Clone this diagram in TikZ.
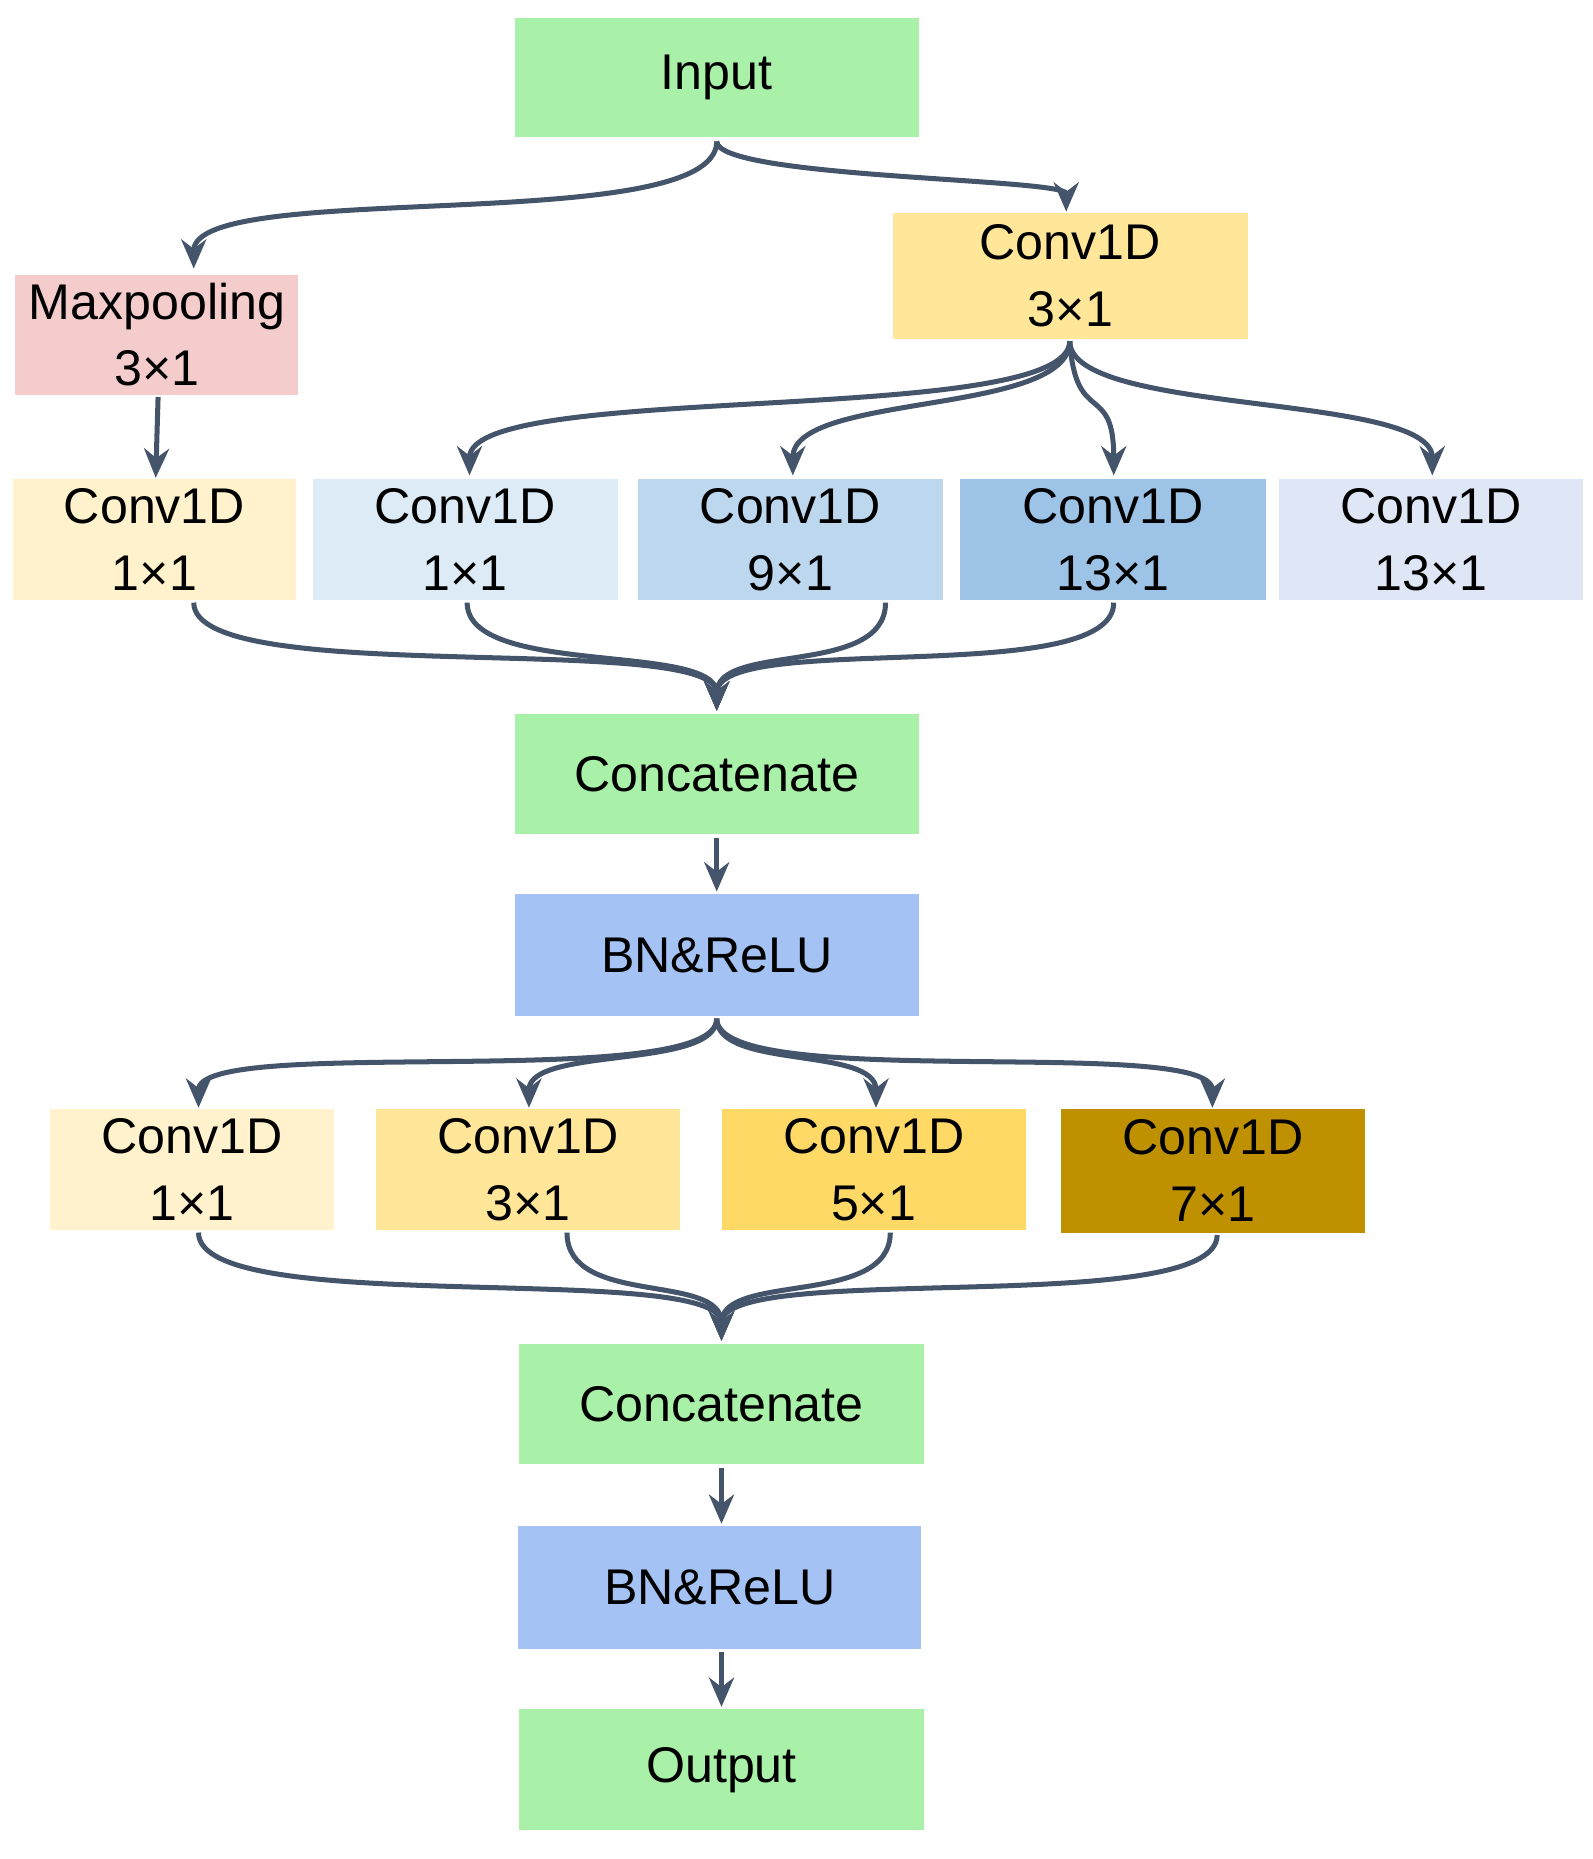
\documentclass[tikz,border=0pt]{standalone}
\usepackage{fontspec}
\setmainfont{Liberation Sans}
\usetikzlibrary{arrows.meta}
\definecolor{cgreen}{HTML}{A9F0A9}
\definecolor{cyel}{HTML}{FFE699}
\definecolor{cpale}{HTML}{FFF2CC}
\definecolor{cpink}{HTML}{F4CCCC}
\definecolor{cb1}{HTML}{DDEBF7}
\definecolor{cb2}{HTML}{BDD7EE}
\definecolor{cb3}{HTML}{9DC3E6}
\definecolor{cb4}{HTML}{DFE7F7}
\definecolor{cbn}{HTML}{A4C2F4}
\definecolor{cgold}{HTML}{FFD966}
\definecolor{cdark}{HTML}{BF9000}
\definecolor{cline}{HTML}{44546A}
\tikzset{
  box/.style={draw=none, inner sep=0pt, align=center,
    font=\fontsize{12}{16}\selectfont},
  conn/.style={cline, line width=1.2pt, -{Stealth[length=7pt,width=6pt]}},
  link/.style={cline, line width=1.2pt},
}
\newcommand\bx[6]{% name, x1, y1, x2, y2, colour
  \path[fill=#6] (#2,#3) rectangle (#4,#5);
  \node[box] (#1) at ({(#2+#4)/2},{(#3+#5)/2}) {};
}
\begin{document}
\begin{tikzpicture}[x=0.01cm,y=-0.01cm]
\useasboundingbox (0,0) rectangle (1340,1564);
% boxes
\bx{in}{433}{15}{773}{115}{cgreen}
\bx{ca}{751}{179}{1050}{285}{cyel}
\bx{mp}{13}{231}{251}{332}{cpink}
\bx{r1}{11}{403}{249}{505}{cpale}
\bx{r2}{263}{403}{520}{505}{cb1}
\bx{r3}{537}{403}{793}{505}{cb2}
\bx{r4}{808}{403}{1065}{505}{cb3}
\bx{r5}{1076}{403}{1332}{505}{cb4}
\bx{cc}{433}{601}{773}{702}{cgreen}
\bx{bn}{433}{752}{773}{855}{cbn}
\bx{s1}{42}{933}{281}{1035}{cpale}
\bx{s2}{316}{933}{572}{1035}{cyel}
\bx{s3}{607}{933}{863}{1035}{cgold}
\bx{s4}{893}{933}{1148}{1037}{cdark}
\bx{cd}{437}{1131}{777}{1232}{cgreen}
\bx{bm}{436}{1284}{775}{1387}{cbn}
\bx{out}{437}{1438}{777}{1540}{cgreen}
% labels
\node[box] at (in) {Input};
\node[box] at (ca) {Conv1D\\3×1};
\node[box] at (mp) {Maxpooling\\3×1};
\node[box] at (r1) {Conv1D\\1×1};
\node[box] at (r2) {Conv1D\\1×1};
\node[box] at (r3) {Conv1D\\9×1};
\node[box] at (r4) {Conv1D\\13×1};
\node[box] at (r5) {Conv1D\\13×1};
\node[box] at (cc) {Concatenate};
\node[box] at (bn) {BN\&ReLU};
\node[box] at (s1) {Conv1D\\1×1};
\node[box] at (s2) {Conv1D\\3×1};
\node[box] at (s3) {Conv1D\\5×1};
\node[box] at (s4) {Conv1D\\7×1};
\node[box] at (cd) {Concatenate};
\node[box] at (bm) {BN\&ReLU};
\node[box] at (out) {Output};
% connector points
\coordinate (ino) at (603,119);
\coordinate (mpi) at (163,226);
\coordinate (cai) at (897,178);
\coordinate (cao) at (900,287);
\coordinate (mpo) at (133,334);
\coordinate (r1i) at (131,402);
\coordinate (r2i) at (395,400);
\coordinate (r3i) at (667,400);
\coordinate (r4i) at (937,400);
\coordinate (r5i) at (1205,400);
\coordinate (r1o) at (163,507);
\coordinate (r2o) at (393,507);
\coordinate (r3o) at (745,507);
\coordinate (r4o) at (937,507);
\coordinate (m1) at (603,598);
\coordinate (cco) at (603,705);
\coordinate (bni) at (603,750);
\coordinate (bno) at (603,857);
\coordinate (s1i) at (167,932);
\coordinate (s2i) at (445,932);
\coordinate (s3i) at (737,932);
\coordinate (s4i) at (1020,932);
\coordinate (s1o) at (167,1037);
\coordinate (s2o) at (477,1037);
\coordinate (s3o) at (749,1037);
\coordinate (s4o) at (1024,1039);
\coordinate (m2) at (607,1128);
\coordinate (cdo) at (607,1235);
\coordinate (bmi) at (607,1282);
\coordinate (bmo) at (607,1390);
\coordinate (outi) at (607,1436);
% connectors
\draw[conn] (ino) .. controls (603,200) and (163,150) .. (mpi);
\draw[conn] (ino) .. controls (603,150) and (897,150) .. (cai);
\draw[conn] (mpo) -- (r1i);
\draw[conn] (cao) .. controls (900,360) and (395,320) .. (r2i);
\draw[conn] (cao) .. controls (900,350) and (667,330) .. (r3i);
\draw[conn] (cao) .. controls (905,360) and (937,320) .. (r4i);
\draw[conn] (cao) .. controls (900,350) and (1205,330) .. (r5i);
\draw[conn] (r1o) .. controls (163,580) and (603,530) .. (m1);
\draw[conn] (r2o) .. controls (393,570) and (603,540) .. (m1);
\draw[conn] (r3o) .. controls (745,570) and (603,540) .. (m1);
\draw[conn] (r4o) .. controls (937,580) and (603,530) .. (m1);
\draw[conn] (cco) -- (bni);
\draw[conn] (bno) .. controls (603,920) and (167,870) .. (s1i);
\draw[conn] (bno) .. controls (603,900) and (445,880) .. (s2i);
\draw[conn] (bno) .. controls (603,900) and (737,880) .. (s3i);
\draw[conn] (bno) .. controls (603,920) and (1020,870) .. (s4i);
\draw[conn] (s1o) .. controls (167,1110) and (607,1060) .. (m2);
\draw[conn] (s2o) .. controls (477,1100) and (607,1070) .. (m2);
\draw[conn] (s3o) .. controls (749,1100) and (607,1070) .. (m2);
\draw[conn] (s4o) .. controls (1024,1110) and (607,1060) .. (m2);
\draw[conn] (cdo) -- (bmi);
\draw[conn] (bmo) -- (outi);
\end{tikzpicture}
\end{document}
